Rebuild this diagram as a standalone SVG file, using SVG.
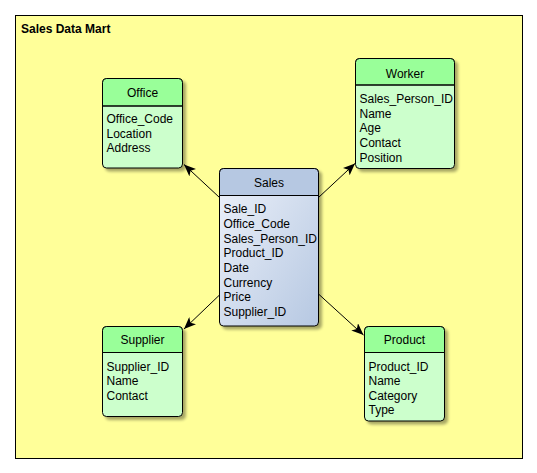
<svg xmlns="http://www.w3.org/2000/svg" width="537" height="473" viewBox="0 0 537 473">
<defs>
<linearGradient id="salesBody" x1="0" y1="0" x2="1" y2="1">
<stop offset="0" stop-color="#EEF2FA"/>
<stop offset="1" stop-color="#B6C8E2"/>
</linearGradient>
<filter id="sh" x="-20%" y="-20%" width="140%" height="140%">
<feGaussianBlur in="SourceAlpha" stdDeviation="1.5"/>
<feOffset dx="3" dy="3" result="b"/>
<feComponentTransfer><feFuncA type="linear" slope="0.35"/></feComponentTransfer>
<feMerge><feMergeNode/><feMergeNode in="SourceGraphic"/></feMerge>
</filter>
<marker id="arr" viewBox="0 0 12 10" refX="12" refY="5" markerWidth="12" markerHeight="10" markerUnits="userSpaceOnUse" orient="auto">
<path d="M0,0 L12,5 L0,10 L3,5 Z" fill="#000"/>
</marker>
</defs>
<style>
text{font-family:"Liberation Sans",Arial,sans-serif;font-size:12px;fill:#000}
.title{font-weight:bold}
.hdr{text-anchor:middle}
.box{stroke:#000;stroke-width:1}
.ghead{fill:#99FF99}
.gbody{fill:#CCFFCC}
.sep{stroke:#000;stroke-width:1}
.conn{stroke:#000;stroke-width:1;fill:none;marker-end:url(#arr)}
</style>
<rect x="15.5" y="15.5" width="507" height="443" fill="#FFFF99" stroke="#000" stroke-width="1"/>
<text class="title" x="21" y="33">Sales Data Mart</text>

<g id="connectors">
<line class="conn" x1="219.5" y1="197.5" x2="184" y2="164.5"/>
<line class="conn" x1="318.5" y1="197.5" x2="355" y2="163.5"/>
<line class="conn" x1="219.5" y1="295" x2="184" y2="329"/>
<line class="conn" x1="318.5" y1="294" x2="363.5" y2="335"/>
</g>

<g id="office">
<g filter="url(#sh)">
<rect class="box gbody" x="102.5" y="78.5" width="80" height="89.5" rx="4"/>
<path class="ghead" d="M102.5,106 V82.5 a4,4 0 0 1 4,-4 H178.5 a4,4 0 0 1 4,4 V106 Z" stroke="#000"/>
</g>
<line class="sep" x1="102.5" y1="106" x2="182.5" y2="106"/>
<text class="hdr" x="142.5" y="97">Office</text>
<text x="106.5" y="123">Office_Code</text>
<text x="106.5" y="137.7">Location</text>
<text x="106.5" y="152.4">Address</text>
</g>

<g id="worker">
<g filter="url(#sh)">
<rect class="box gbody" x="355.5" y="58.5" width="99" height="110" rx="4"/>
<path class="ghead" d="M355.5,85 V62.5 a4,4 0 0 1 4,-4 H450.5 a4,4 0 0 1 4,4 V85 Z" stroke="#000"/>
</g>
<line class="sep" x1="355.5" y1="85" x2="454.5" y2="85"/>
<text class="hdr" x="405" y="77.6">Worker</text>
<text x="359.5" y="103">Sales_Person_ID</text>
<text x="359.5" y="117.6">Name</text>
<text x="359.5" y="132.3">Age</text>
<text x="359.5" y="147">Contact</text>
<text x="359.5" y="161.6">Position</text>
</g>

<g id="sales">
<g filter="url(#sh)">
<rect class="box" fill="url(#salesBody)" x="219.5" y="168.5" width="99" height="157.5" rx="4"/>
<path fill="#B6C8E2" d="M219.5,195.5 V172.5 a4,4 0 0 1 4,-4 H314.5 a4,4 0 0 1 4,4 V195.5 Z" stroke="#000"/>
</g>
<line class="sep" x1="219.5" y1="195.5" x2="318.5" y2="195.5"/>
<text class="hdr" x="269" y="187">Sales</text>
<text x="223.5" y="213.3">Sale_ID</text>
<text x="223.5" y="228">Office_Code</text>
<text x="223.5" y="242.6">Sales_Person_ID</text>
<text x="223.5" y="257.2">Product_ID</text>
<text x="223.5" y="271.9">Date</text>
<text x="223.5" y="286.5">Currency</text>
<text x="223.5" y="301.2">Price</text>
<text x="223.5" y="315.8">Supplier_ID</text>
</g>

<g id="supplier">
<g filter="url(#sh)">
<rect class="box gbody" x="102.5" y="326.5" width="80" height="90" rx="4"/>
<path class="ghead" d="M102.5,352.5 V330.5 a4,4 0 0 1 4,-4 H178.5 a4,4 0 0 1 4,4 V352.5 Z" stroke="#000"/>
</g>
<line class="sep" x1="102.5" y1="352.5" x2="182.5" y2="352.5"/>
<text class="hdr" x="142.5" y="344.3">Supplier</text>
<text x="106.5" y="370.5">Supplier_ID</text>
<text x="106.5" y="385.1">Name</text>
<text x="106.5" y="399.8">Contact</text>
</g>

<g id="product">
<g filter="url(#sh)">
<rect class="box gbody" x="364.5" y="326.5" width="80" height="94.5" rx="4"/>
<path class="ghead" d="M364.5,352.5 V330.5 a4,4 0 0 1 4,-4 H440.5 a4,4 0 0 1 4,4 V352.5 Z" stroke="#000"/>
</g>
<line class="sep" x1="364.5" y1="352.5" x2="444.5" y2="352.5"/>
<text class="hdr" x="404.5" y="344.3">Product</text>
<text x="368.5" y="370.5">Product_ID</text>
<text x="368.5" y="385.1">Name</text>
<text x="368.5" y="399.8">Category</text>
<text x="368.5" y="414.4">Type</text>
</g>
</svg>
